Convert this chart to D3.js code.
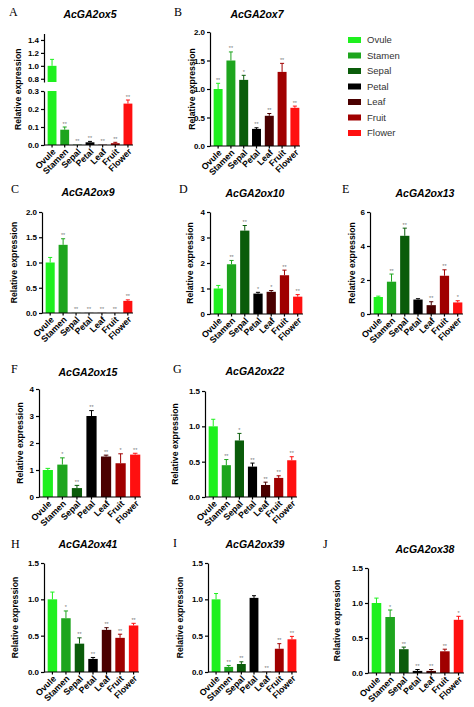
<!DOCTYPE html>
<html lang="en">
<head>
<meta charset="UTF-8">
<title>AcGA2ox expression</title>
<style>
    body { margin: 0; background: white; }
    svg text { font-family: Arial, 'Liberation Sans', sans-serif; }
    .axis path, .axis line { stroke: black; stroke-width: 1.2px; }
    .axis text { font-size: 8px; font-weight: bold; fill: black; }
    .xlab text { font-size: 8.8px; font-weight: bold; fill: black; }
</style>
</head>
<body>
<div id="chart"></div>
<script src="https://d3js.org/d3.v7.min.js"></script>
<script>
    // Tissues and colours
    const tissues = ["Ovule", "Stamen", "Sepal", "Petal", "Leaf", "Fruit", "Flower"];
    const tissueColors = ["#1ef01e", "#1ea51e", "#0a5c0a", "#000000", "#4a0000", "#a00000", "#ff1010"];

    // Relative expression, error (upper) and significance per gene
    const ga2ox5 = [1.0, 0.085, 0.002, 0.015, 0.002, 0.01, 0.23];
    const ga2ox5Err = [0.1, 0.015, 0, 0.005, 0, 0.005, 0.02];
    const ga2ox5Sig = ["", "**", "**", "**", "**", "**", "**"];

    const ga2ox7 = [1.0, 1.5, 1.16, 0.3, 0.53, 1.3, 0.67];
    const ga2ox7Err = [0.1, 0.15, 0.08, 0.02, 0.04, 0.15, 0.03];
    const ga2ox7Sig = ["**", "**", "*", "**", "**", "**", "**"];

    const ga2ox9 = [1.0, 1.35, 0.003, 0.003, 0.003, 0.003, 0.24];
    const ga2ox9Err = [0.1, 0.12, 0, 0, 0, 0, 0.02];
    const ga2ox9Sig = ["", "**", "**", "**", "**", "**", "**"];

    const ga2ox10 = [1.0, 1.95, 3.27, 0.8, 0.87, 1.52, 0.68];
    const ga2ox10Err = [0.12, 0.15, 0.2, 0.05, 0.05, 0.2, 0.08];
    const ga2ox10Sig = ["", "**", "**", "*", "*", "**", "**"];

    const ga2ox13 = [1.0, 1.9, 4.6, 0.85, 0.52, 2.25, 0.68];
    const ga2ox13Err = [0.05, 0.45, 0.45, 0.05, 0.2, 0.35, 0.1];
    const ga2ox13Sig = ["", "**", "**", "", "**", "**", "*"];

    const ga2ox15 = [1.0, 1.2, 0.33, 3.0, 1.5, 1.25, 1.57];
    const ga2ox15Err = [0.06, 0.25, 0.1, 0.2, 0.05, 0.35, 0.05];
    const ga2ox15Sig = ["", "*", "**", "**", "**", "*", "**"];

    const ga2ox22 = [1.0, 0.45, 0.8, 0.43, 0.17, 0.27, 0.52];
    const ga2ox22Err = [0.1, 0.08, 0.1, 0.05, 0.04, 0.03, 0.05];
    const ga2ox22Sig = ["", "**", "*", "**", "**", "**", "**"];

    const ga2ox41 = [1.0, 0.74, 0.39, 0.18, 0.58, 0.47, 0.64];
    const ga2ox41Err = [0.1, 0.1, 0.08, 0.02, 0.03, 0.05, 0.03];
    const ga2ox41Sig = ["", "*", "**", "**", "**", "**", "**"];

    const ga2ox39 = [1.0, 0.07, 0.11, 1.02, 0.005, 0.32, 0.45];
    const ga2ox39Err = [0.08, 0.02, 0.03, 0.03, 0, 0.07, 0.04];
    const ga2ox39Sig = ["", "**", "**", "", "**", "**", "**"];

    const ga2ox38 = [1.0, 0.8, 0.34, 0.03, 0.03, 0.31, 0.76];
    const ga2ox38Err = [0.07, 0.1, 0.03, 0.02, 0.02, 0.03, 0.05];
    const ga2ox38Sig = ["", "*", "**", "**", "**", "**", "*"];

    // Panel layout (pixel positions on the 474x707 page)
    const panels = [
        { letter: "A", gene: "AcGA2ox5", v: ga2ox5, e: ga2ox5Err, s: ga2ox5Sig, x0: 44, x1: 133, lx: 9, ly: 16, tx: 90, ty: 18, yl: 18, fmt: ".1f",
          segs: [{ domain: [0, 0.3], range: [145, 91], ticks: [0, 0.1, 0.2, 0.3] },
                 { domain: [0.75, 1.5], range: [82, 33.5], ticks: [0.8, 1.0, 1.2, 1.4] }] },
        { letter: "B", gene: "AcGA2ox7", v: ga2ox7, e: ga2ox7Err, s: ga2ox7Sig, x0: 210, x1: 300, lx: 174, ly: 16, tx: 257, ty: 18, yl: 192, fmt: ".1f",
          segs: [{ domain: [0, 2], range: [146, 32], ticks: [0, 0.5, 1, 1.5, 2] }] },
        { letter: "C", gene: "AcGA2ox9", v: ga2ox9, e: ga2ox9Err, s: ga2ox9Sig, x0: 42, x1: 133, lx: 11, ly: 193, tx: 88, ty: 196, yl: 14, fmt: ".1f",
          segs: [{ domain: [0, 2], range: [313, 212], ticks: [0, 0.5, 1, 1.5, 2] }] },
        { letter: "D", gene: "AcGA2ox10", v: ga2ox10, e: ga2ox10Err, s: ga2ox10Sig, x0: 210, x1: 303, lx: 179, ly: 193, tx: 255, ty: 197, yl: 190, fmt: "d",
          segs: [{ domain: [0, 4], range: [314, 212], ticks: [0, 1, 2, 3, 4] }] },
        { letter: "E", gene: "AcGA2ox13", v: ga2ox13, e: ga2ox13Err, s: ga2ox13Sig, x0: 370, x1: 463, lx: 342, ly: 193, tx: 425, ty: 197, yl: 352, fmt: "d",
          segs: [{ domain: [0, 6], range: [314, 212], ticks: [0, 2, 4, 6] }] },
        { letter: "F", gene: "AcGA2ox15", v: ga2ox15, e: ga2ox15Err, s: ga2ox15Sig, x0: 39, x1: 141, lx: 11, ly: 373, tx: 88, ty: 376, yl: 20, fmt: "d",
          segs: [{ domain: [0, 4], range: [497, 389], ticks: [0, 1, 2, 3, 4] }] },
        { letter: "G", gene: "AcGA2ox22", v: ga2ox22, e: ga2ox22Err, s: ga2ox22Sig, x0: 205, x1: 297, lx: 173, ly: 373, tx: 255, ty: 375, yl: 175, fmt: ".1f",
          segs: [{ domain: [0, 1.5], range: [497, 391], ticks: [0, 0.5, 1, 1.5] }] },
        { letter: "H", gene: "AcGA2ox41", v: ga2ox41, e: ga2ox41Err, s: ga2ox41Sig, x0: 44, x1: 139, lx: 11, ly: 548, tx: 88, ty: 548, yl: 15, fmt: ".1f",
          segs: [{ domain: [0, 1.5], range: [672, 563], ticks: [0, 0.5, 1, 1.5] }] },
        { letter: "I", gene: "AcGA2ox39", v: ga2ox39, e: ga2ox39Err, s: ga2ox39Sig, x0: 208, x1: 297, lx: 173, ly: 547, tx: 255, ty: 548, yl: 180, fmt: ".1f",
          segs: [{ domain: [0, 1.5], range: [672, 563], ticks: [0, 0.5, 1, 1.5] }] },
        { letter: "J", gene: "AcGA2ox38", v: ga2ox38, e: ga2ox38Err, s: ga2ox38Sig, x0: 368, x1: 464, lx: 323, ly: 548, tx: 425, ty: 553, yl: 337, fmt: ".1f",
          segs: [{ domain: [0, 1.5], range: [673, 568], ticks: [0, 0.5, 1, 1.5] }] }
    ];

    const svg = d3.select("#chart").append("svg")
        .attr("width", 474)
        .attr("height", 707);

    const color = d3.scaleOrdinal().domain(tissues).range(tissueColors);

    function drawPanel(p) {
        const g = svg.append("g");
        const x = d3.scaleBand().domain(tissues).range([p.x0 + 3, p.x1])
            .paddingInner(0.3).paddingOuter(0.05);
        const rows = tissues.map((t, i) => ({ t: t, v: p.v[i], e: p.e[i], s: p.s[i] }));
        const bottom = p.segs[0].range[0];
        const top = p.segs[p.segs.length - 1].range[1];

        p.segs.forEach(seg => {
            const y = d3.scaleLinear().domain(seg.domain).range(seg.range);
            const inSeg = rows.filter(d => d.v > seg.domain[0]);

            // bars (clipped to the segment)
            g.selectAll(null).data(inSeg).enter().append("rect")
                .attr("x", d => x(d.t))
                .attr("width", x.bandwidth())
                .attr("y", d => y(Math.min(d.v, seg.domain[1])))
                .attr("height", d => y(seg.domain[0]) - y(Math.min(d.v, seg.domain[1])))
                .attr("fill", d => color(d.t));

            // error bars and stars for bars that end inside this segment
            const ends = rows.filter(d => d.v <= seg.domain[1] && (d.v >= seg.domain[0] || seg.domain[0] === 0));
            const cap = x.bandwidth() * 0.45;
            const errs = ends.filter(d => d.e > 0);
            g.selectAll(null).data(errs).enter().append("path")
                .attr("d", d => {
                    const cx = x(d.t) + x.bandwidth() / 2;
                    const y0 = y(d.v), y1 = y(d.v + d.e);
                    return `M${cx},${y0}V${y1}M${cx - cap / 2},${y1}H${cx + cap / 2}`;
                })
                .attr("stroke", d => color(d.t))
                .attr("stroke-width", 1)
                .attr("fill", "none");

            g.selectAll(null).data(ends.filter(d => d.s)).enter().append("text")
                .attr("x", d => x(d.t) + x.bandwidth() / 2)
                .attr("y", d => y(d.v + d.e) - 1.5)
                .attr("text-anchor", "middle")
                .attr("font-size", "5.5px")
                .attr("fill", "#777")
                .text(d => d.s);

            g.append("g").attr("class", "axis")
                .attr("transform", `translate(${p.x0},0)`)
                .call(d3.axisLeft(y).tickValues(seg.ticks).tickSize(3).tickSizeOuter(0)
                    .tickPadding(2).tickFormat(d3.format(p.fmt)));
        });

        // x axis
        g.append("line")
            .attr("x1", p.x0).attr("x2", p.x1)
            .attr("y1", bottom).attr("y2", bottom)
            .attr("stroke", "black").attr("stroke-width", 1.2);

        const xa = g.append("g").attr("class", "axis xlab")
            .attr("transform", `translate(0,${bottom})`)
            .call(d3.axisBottom(x).tickSize(2.5).tickSizeOuter(0));
        xa.select(".domain").remove();
        xa.selectAll("text")
            .attr("x", 0).attr("y", 0).attr("dy", "0.35em")
            .attr("text-anchor", "end")
            .attr("transform", "translate(2,5) rotate(-45)");

        // y axis title
        g.append("text")
            .attr("transform", `translate(${p.yl},${(top + bottom) / 2}) rotate(-90)`)
            .attr("text-anchor", "middle")
            .attr("dy", "0.35em")
            .attr("font-size", "8.7px")
            .attr("font-weight", "bold")
            .text("Relative expression");

        // gene title
        g.append("text")
            .attr("x", p.tx).attr("y", p.ty)
            .attr("text-anchor", "middle")
            .attr("font-size", "10.5px")
            .attr("font-weight", "bold")
            .attr("font-style", "italic")
            .text(p.gene);

        // panel letter
        g.append("text")
            .attr("x", p.lx).attr("y", p.ly)
            .style("font-family", "'Liberation Serif', 'Times New Roman', serif")
            .attr("font-size", "12px")
            .text(p.letter);
    }

    panels.forEach(drawPanel);

    // Legend
    const legend = svg.append("g").selectAll("g")
        .data(tissues).enter().append("g")
        .attr("transform", (d, i) => `translate(348,${40 + i * 15.5})`);
    legend.append("rect")
        .attr("x", 0).attr("y", -3)
        .attr("width", 13).attr("height", 6)
        .attr("fill", d => color(d));
    legend.append("text")
        .attr("x", 19).attr("dy", "0.35em")
        .attr("font-size", "9.5px")
        .attr("fill", "#333")
        .text(d => d);
</script>
</body>
</html>
